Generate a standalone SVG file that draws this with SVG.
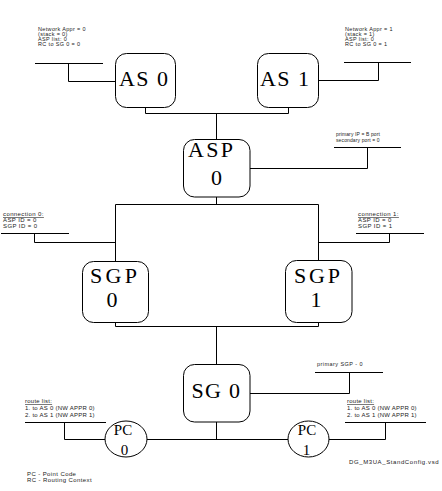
<svg xmlns="http://www.w3.org/2000/svg" width="442" height="491" viewBox="0 0 442 491">
<style>
.bg{fill:#fff}
.box{fill:#fff;stroke:#000;stroke-width:1}
.ln{fill:none;stroke:#000;stroke-width:1}
.big{font-family:"Liberation Serif","Times New Roman",serif;font-size:22px;fill:#000}
.pc{font-family:"Liberation Serif","Times New Roman",serif;font-size:15px;fill:#000}
.s{font-family:"Liberation Sans",Arial,sans-serif;font-size:5.5px;letter-spacing:0.35px;fill:#222}
.m{font-family:"Liberation Sans",Arial,sans-serif;font-size:6px;letter-spacing:0.4px;fill:#222}
.r{font-family:"Liberation Sans",Arial,sans-serif;font-size:6px;letter-spacing:0.25px;fill:#222}
.t{font-family:"Liberation Sans",Arial,sans-serif;font-size:5px;letter-spacing:0.12px;fill:#222}
.u{text-decoration:underline}
</style>
<rect class="bg" x="0" y="0" width="442" height="491"/>
<g id="connectors">
<path class="ln" d="M35 63.5H103M68.5 63.5V81.5H115.5"/>
<path class="ln" d="M344 62.5H411M378.5 62.5V80.5H318.5"/>
<path class="ln" d="M145.5 107.5V113.5H288.5V107.5M216.5 113.5V139.5"/>
<path class="ln" d="M334 147.5H401M367.5 147.5V168.5H250"/>
<path class="ln" d="M216.5 197V204.5M115.5 261.5V204.5H318.5V260.5"/>
<path class="ln" d="M1 233.5H69M34.5 233.5V242.5H115.5"/>
<path class="ln" d="M356 233.5H424M389.5 233.5V242.5H318.5"/>
<path class="ln" d="M115.5 322.5V326.5H318.5V322.5M216.5 326.5V364.5"/>
<path class="ln" d="M315 372.5H383M349.5 372.5V393.5H250"/>
<path class="ln" d="M216.5 422V439.5M147 439.5H288"/>
<path class="ln" d="M25 422.5H106M64.5 422.5V439.5H105"/>
<path class="ln" d="M345 422.5H426M385.5 422.5V439.5H329"/>
</g>
<g id="as0">
<rect class="box" x="115.5" y="53.5" width="60" height="54" rx="11"/>
<text class="big" x="119" y="86" textLength="49" lengthAdjust="spacing">AS 0</text>
</g>
<g id="as1">
<rect class="box" x="257.5" y="53.5" width="61" height="54" rx="11"/>
<text class="big" x="260" y="86" textLength="49" lengthAdjust="spacing">AS 1</text>
</g>
<g id="asp0">
<rect class="box" x="183.5" y="139.5" width="66.5" height="57.5" rx="11"/>
<text class="big" x="188" y="157" textLength="45" lengthAdjust="spacing">ASP</text>
<text class="big" x="216.5" y="185" text-anchor="middle">0</text>
</g>
<g id="sgp0">
<rect class="box" x="82.5" y="261.5" width="66" height="61" rx="11"/>
<text class="big" x="90" y="283" textLength="47" lengthAdjust="spacing">SGP</text>
<text class="big" x="112" y="307" text-anchor="middle">0</text>
</g>
<g id="sgp1">
<rect class="box" x="285.5" y="260.5" width="66.5" height="62" rx="11"/>
<text class="big" x="294" y="283" textLength="46" lengthAdjust="spacing">SGP</text>
<text class="big" x="316" y="307" text-anchor="middle">1</text>
</g>
<g id="sg0">
<rect class="box" x="183.5" y="364.5" width="66.5" height="57.5" rx="11"/>
<text class="big" x="191.5" y="398" textLength="48.5" lengthAdjust="spacing">SG 0</text>
</g>
<g id="pc0">
<ellipse class="box" cx="126" cy="439" rx="21" ry="18"/>
<text class="pc" x="123" y="435" text-anchor="middle">PC</text>
<text class="pc" x="124.5" y="455" text-anchor="middle">0</text>
</g>
<g id="pc1">
<ellipse class="box" cx="308.5" cy="439" rx="20.5" ry="18"/>
<text class="pc" x="307" y="435" text-anchor="middle">PC</text>
<text class="pc" x="306.5" y="455" text-anchor="middle">1</text>
</g>
<g id="note-as0">
<text class="s" x="38" y="31">Network Appr = 0</text>
<text class="s" x="38" y="36">(stack = 0)</text>
<text class="s" x="38" y="40.8">ASP list: 0</text>
<text class="s" x="38" y="45.6">RC to SG 0 = 0</text>
</g>
<g id="note-as1">
<text class="s" x="345" y="31">Network Appr = 1</text>
<text class="s" x="345" y="36">(stack = 1)</text>
<text class="s" x="345" y="40.8">ASP list: 0</text>
<text class="s" x="345" y="45.6">RC to SG 0 = 1</text>
</g>
<g id="note-asp0">
<text class="t" x="336" y="136">primary IP = B port</text>
<text class="t" x="336" y="141.5">secondary port = 0</text>
</g>
<g id="note-conn0">
<text class="m u" x="3" y="216">connection 0:</text>
<text class="m" x="3" y="222.2">ASP ID = 0</text>
<text class="m" x="3" y="228">SGP ID = 0</text>
</g>
<g id="note-conn1">
<text class="m u" x="358" y="216">connection 1:</text>
<text class="m" x="358" y="222.2">ASP ID = 0</text>
<text class="m" x="358" y="228">SGP ID = 1</text>
</g>
<g id="note-sg0">
<text class="s" x="317" y="366" style="letter-spacing:0.45px">primary SGP - 0</text>
</g>
<g id="note-route0">
<text class="r u" x="25" y="403">route list:</text>
<text class="r" x="25" y="410">1. to AS 0 (NW APPR 0)</text>
<text class="r" x="25" y="417">2. to AS 1 (NW APPR 1)</text>
</g>
<g id="note-route1">
<text class="r u" x="347" y="403">route list:</text>
<text class="r" x="347" y="410">1. to AS 0 (NW APPR 0)</text>
<text class="r" x="347" y="417">2. to AS 1 (NW APPR 1)</text>
</g>
<g id="legend">
<text class="m" x="27" y="476">PC - Point Code</text>
<text class="m" x="27" y="482">RC - Routing Context</text>
<text class="m" x="349" y="463.5" style="letter-spacing:0.6px">DG_M3UA_StandConfig.vsd</text>
</g>
</svg>
